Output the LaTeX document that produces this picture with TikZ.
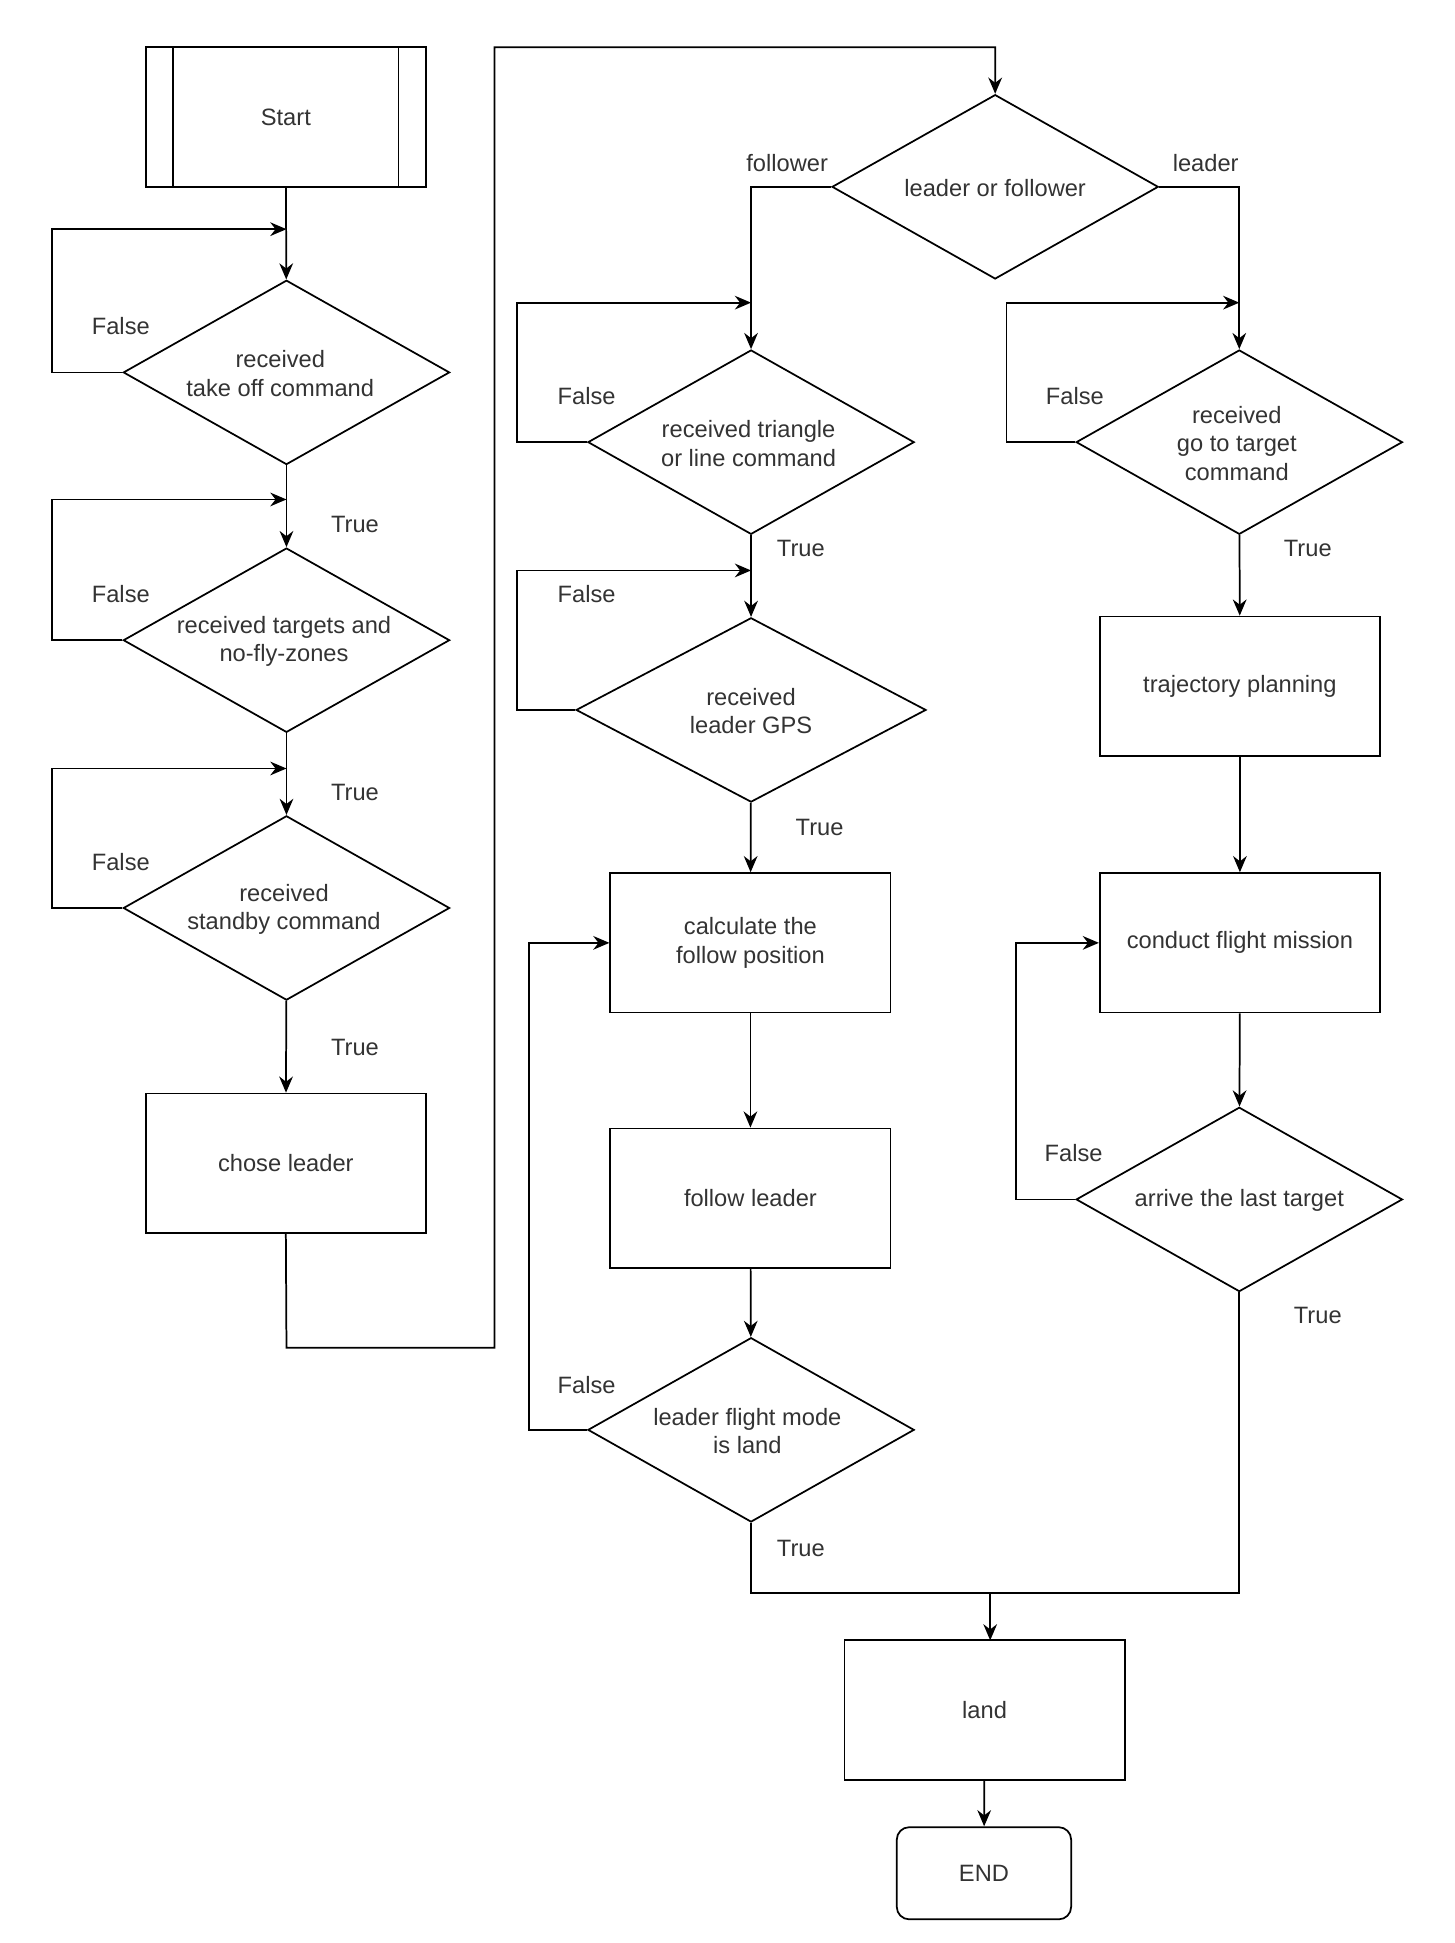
\documentclass[tikz,border=0pt]{standalone}
\usepackage{fontspec}
\setmainfont{Liberation Sans}
\usetikzlibrary{shapes.geometric,arrows.meta,calc}
\begin{document}
\begin{tikzpicture}[x=1pt,y=-1pt,
  every node/.style={font=\fontsize{19}{23}\selectfont, text=black!80},
  ln/.style={line width=1.4pt},
  arr/.style={ln,-{Stealth[length=13pt,width=11pt]}},
  box/.style={draw,ln,rectangle,minimum width=225pt,minimum height=112pt,inner sep=0pt,align=center},
  dia/.style={draw,ln,diamond,minimum width=262pt,minimum height=148pt,inner sep=0pt},
  txt/.style={align=center},
  lab/.style={inner sep=1pt}]
\useasboundingbox (0,0) rectangle (1168,1560);
% left column
\node[box] (start) at (229.5,94) {Start};
\draw[ln] (139,38) -- (139,150) (320,38) -- (320,150);
\node[dia] (d1) at (230,299) {};
\node[txt] at (225,300) {received\\take off command};
\node[dia] (d2) at (230,514) {};
\node[txt] at (228,515) {received targets and\\no-fly-zones};
\node[dia] (d3) at (230,729) {};
\node[txt] at (228,730) {received\\standby command};
\node[box] (chose) at (229.5,934) {chose leader};
\coordinate (j1) at (230,184);
\coordinate (j2) at (230,401);
\coordinate (j3) at (230,617);
\draw[arr] (start) -- (d1);
\draw[arr] (d1) -- (d2);
\draw[arr] (d2) -- (d3);
\draw[arr] (d3) -- (chose);
\draw[arr] (d1.west) -- (42,299) |- (j1);
\draw[arr] (d2.west) -- (42,514) |- (j2);
\draw[arr] (d3.west) -- (42,729) |- (j3);
\node[lab] at (97,262) {False};
\node[lab] at (97,477) {False};
\node[lab] at (97,692) {False};
\node[lab] at (285,421) {True};
\node[lab] at (285,636) {True};
\node[lab] at (285,841) {True};
% top decision
\node[dia] (dlf) at (799,150) {};
\node[txt] at (799,151) {leader or follower};
\draw[arr] (chose.south) -- (230,1082) -- (397,1082) -- (397,38) -- (799,38) -- (dlf.north);
\node[lab] at (632,131) {follower};
\node[lab] at (968,131) {leader};
% follower column
\node[dia] (dt) at (603,355) {};
\node[txt] at (601,356) {received triangle\\or line command};
\node[dia,minimum width=281pt] (dg) at (603,570) {};
\node[txt] at (603,571) {received\\leader GPS};
\node[box] (calc) at (602.5,757) {calculate the\\follow position};
\node[box] (fol) at (602.5,962) {follow leader};
\node[dia] (dm) at (603,1148) {};
\node[txt] at (600,1149) {leader flight mode\\is land};
\coordinate (j4) at (603,243);
\coordinate (j5) at (603,458);
\draw[arr] (dlf.west) -| (dt.north);
\draw[arr] (dt) -- (dg);
\draw[arr] (dg) -- (calc);
\draw[arr] (calc) -- (fol);
\draw[arr] (fol) -- (dm);
\draw[arr] (dt.west) -- (415,355) |- (j4);
\draw[arr] (dg.west) -- (415,570) |- (j5);
\draw[arr] (dm.west) -- (425,1148) |- (calc.west);
\node[lab] at (471,318) {False};
\node[lab] at (471,477) {False};
\node[lab] at (471,1112) {False};
\node[lab] at (643,440) {True};
\node[lab] at (658,664) {True};
\node[lab] at (643,1243) {True};
% leader column
\node[dia] (dtg) at (995,355) {};
\node[txt] at (993,356) {received\\go to target\\command};
\node[box] (traj) at (995.5,551) {trajectory planning};
\node[box] (cond) at (995.5,757) {conduct flight mission};
\node[dia] (da) at (995,963) {};
\node[txt] at (995,964) {arrive the last target};
\coordinate (j6) at (995,243);
\draw[arr] (dlf.east) -| (dtg.north);
\draw[arr] (dtg) -- (traj);
\draw[arr] (traj) -- (cond);
\draw[arr] (cond) -- (da);
\draw[arr] (dtg.west) -- (808,355) |- (j6);
\draw[arr] (da.west) -- (816,963) |- (cond.west);
\node[lab] at (863,318) {False};
\node[lab] at (862,926) {False};
\node[lab] at (1050,440) {True};
\node[lab] at (1058,1056) {True};
% land / end
\node[box] (land) at (790.5,1373) {land};
\node[draw,ln,rounded corners=10pt,minimum width=140pt,minimum height=74pt,inner sep=0pt] (end) at (790,1504) {END};
\coordinate (jm) at (795,1279);
\draw[ln] (da.south) |- (jm);
\draw[ln] (dm.south) |- (jm);
\draw[arr] (jm) -- (795,1317);
\draw[arr] (land) -- (end);
\end{tikzpicture}
\end{document}
